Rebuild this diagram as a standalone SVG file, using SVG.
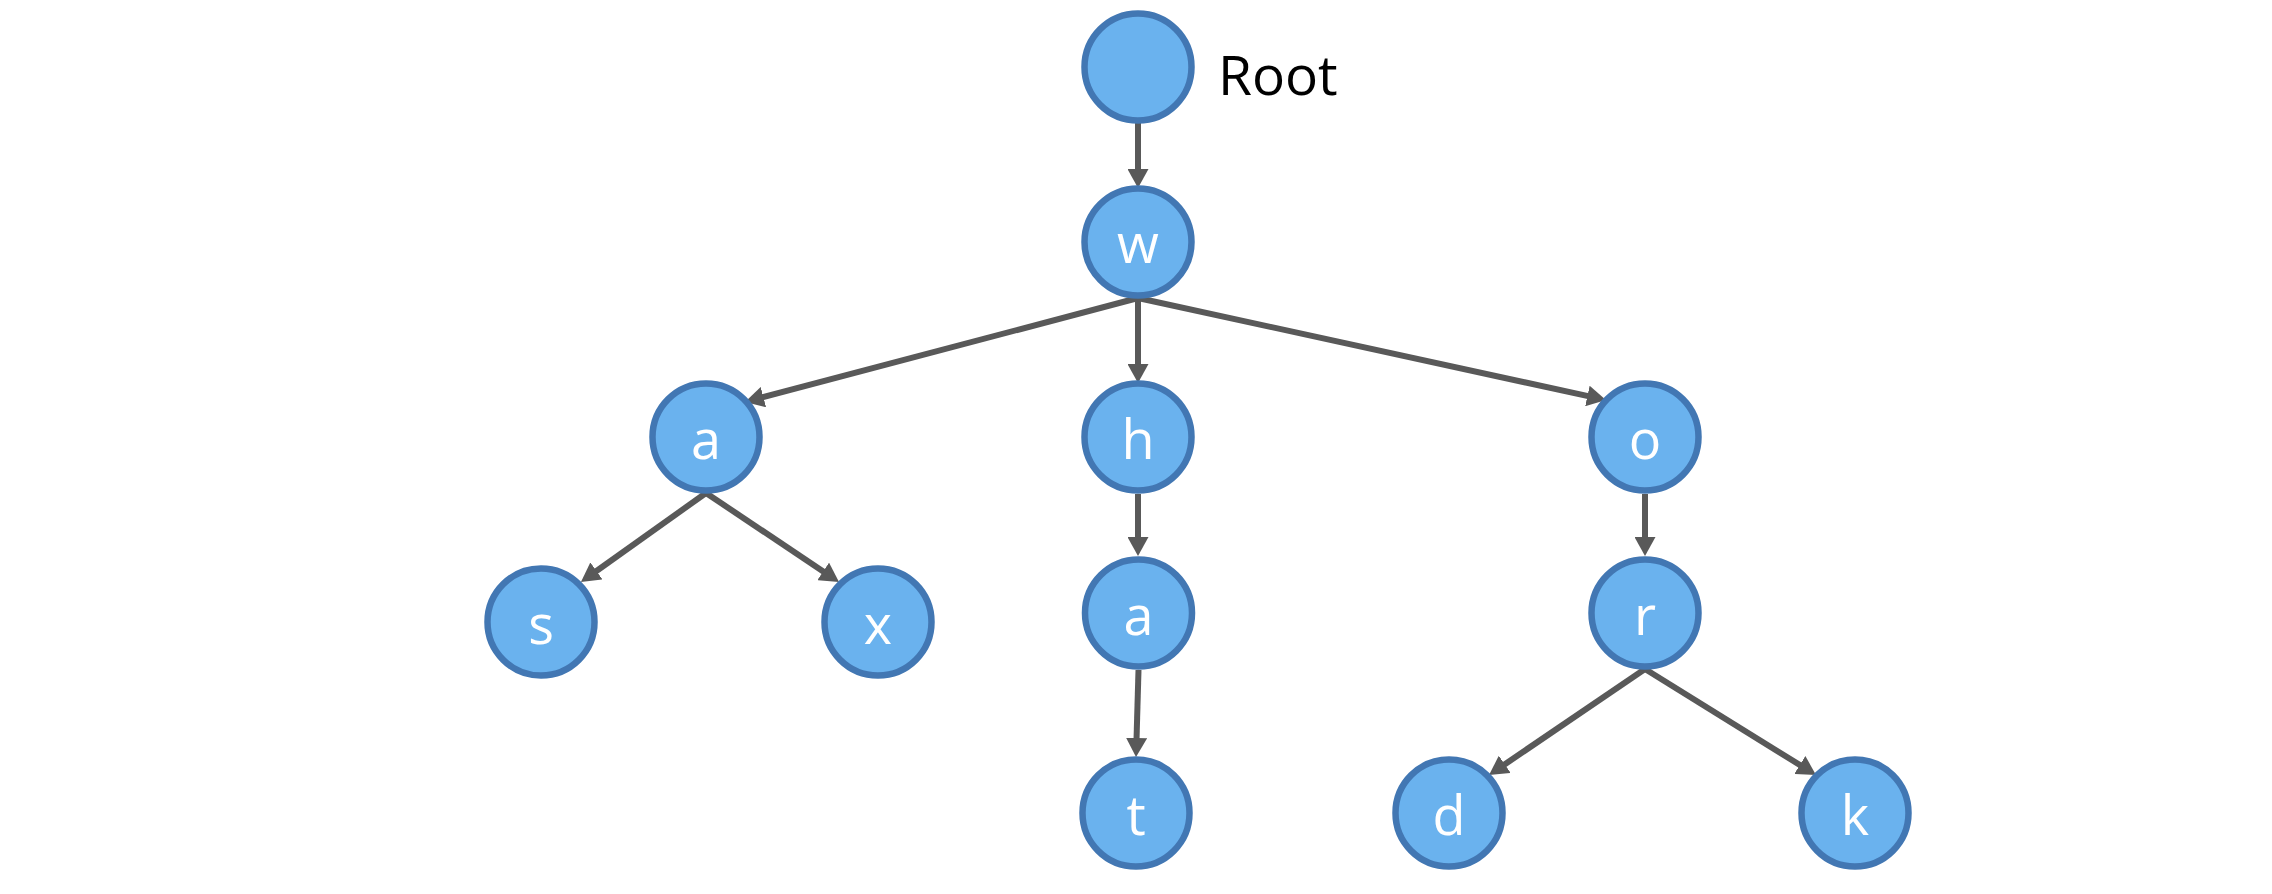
<svg xmlns="http://www.w3.org/2000/svg" width="2272" height="894" viewBox="0 0 2272 894">
<style>
.node circle{fill:#6AB2EE;stroke:#4277B3;stroke-width:6.5}
.node text{fill:#FFFFFF;font-family:"Open Sans","Noto Sans",sans-serif;font-size:54px;font-weight:500;text-anchor:middle}
.edge{stroke:#595959;stroke-width:6;fill:none;marker-end:url(#arr)}
.label{fill:#000000;font-family:"Open Sans","Noto Sans",sans-serif;font-size:55px;font-weight:500}
</style>
<defs>
<marker id="arr" markerUnits="userSpaceOnUse" markerWidth="19" markerHeight="21" refX="9" refY="10.5" orient="auto" viewBox="0 0 19 21">
<path d="M0,0 L19,10.5 L0,21 z" fill="#595959"/>
</marker>
</defs>
<rect width="2272" height="894" fill="#FFFFFF"/>
<g id="connectors">
<line class="edge" x1="1138" y1="122" x2="1138" y2="178"/>
<line class="edge" x1="1138" y1="298" x2="754.7" y2="399.4"/>
<line class="edge" x1="1138" y1="298" x2="1138" y2="373"/>
<line class="edge" x1="1138" y1="298" x2="1596.2" y2="397.9"/>
<line class="edge" x1="706" y1="493" x2="589.1" y2="576.2"/>
<line class="edge" x1="706" y1="493" x2="830.7" y2="576.4"/>
<line class="edge" x1="1138" y1="494" x2="1138" y2="546"/>
<line class="edge" x1="1138.5" y1="670" x2="1136.3" y2="747"/>
<line class="edge" x1="1645" y1="494" x2="1645" y2="546"/>
<line class="edge" x1="1645" y1="669" x2="1497.3" y2="769.4"/>
<line class="edge" x1="1645" y1="669" x2="1807.5" y2="769.7"/>
</g>
<g id="node-root" class="node"><circle cx="1138" cy="67" r="53.5"/></g>
<text class="label" x="1218" y="95">Root</text>
<g id="node-w" class="node"><circle cx="1138" cy="242" r="53.5"/><text x="1138" y="263">w</text></g>
<g id="node-a" class="node"><circle cx="706" cy="437" r="53.5"/><text x="706" y="459">a</text></g>
<g id="node-h" class="node"><circle cx="1138" cy="437" r="53.5"/><text x="1138" y="459">h</text></g>
<g id="node-o" class="node"><circle cx="1645" cy="437" r="53.5"/><text x="1645" y="459">o</text></g>
<g id="node-s" class="node"><circle cx="541" cy="622" r="53.5"/><text x="541" y="644">s</text></g>
<g id="node-x" class="node"><circle cx="878" cy="622" r="53.5"/><text x="878" y="644">x</text></g>
<g id="node-a2" class="node"><circle cx="1138.5" cy="613" r="53.5"/><text x="1138.5" y="635">a</text></g>
<g id="node-r" class="node"><circle cx="1645" cy="613" r="53.5"/><text x="1645" y="635">r</text></g>
<g id="node-t" class="node"><circle cx="1136" cy="813" r="53.5"/><text x="1136" y="835">t</text></g>
<g id="node-d" class="node"><circle cx="1449" cy="813" r="53.5"/><text x="1449" y="835">d</text></g>
<g id="node-k" class="node"><circle cx="1855" cy="813" r="53.5"/><text x="1855" y="835">k</text></g>
</svg>
